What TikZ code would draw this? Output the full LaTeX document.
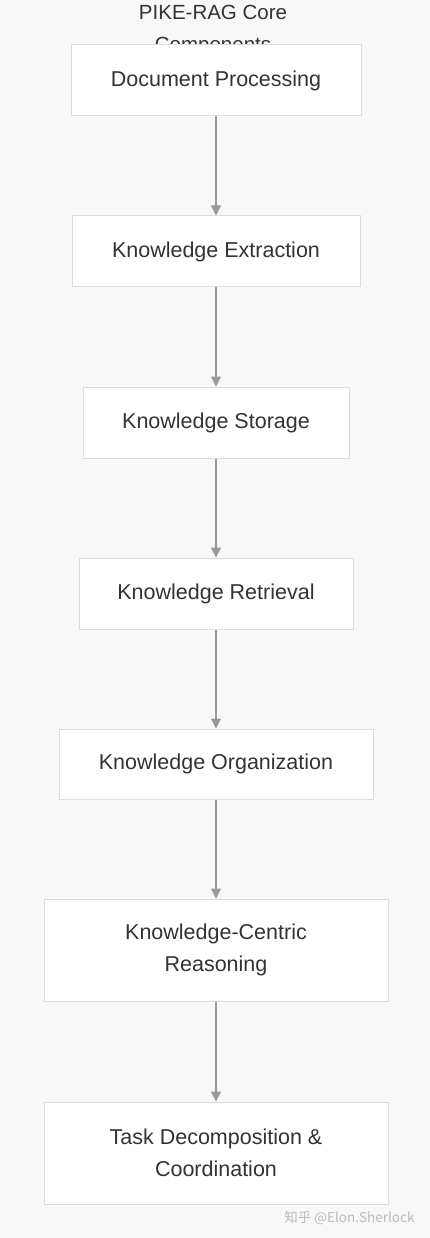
\documentclass[tikz,border=0pt]{standalone}
\usepackage{fontspec}
\setmainfont{Liberation Sans}
\newfontfamily\cjkfont{Noto Sans CJK SC}
\usetikzlibrary{arrows.meta}

\definecolor{bgcol}{HTML}{F8F8F8}
\definecolor{boxline}{HTML}{DDDDDD}
\definecolor{txtcol}{HTML}{333333}
\definecolor{arrowcol}{HTML}{999999}
\definecolor{markcol}{HTML}{BBBBBB}

\begin{document}
\begin{tikzpicture}[x=1pt, y=-1pt,
  comp/.style={draw=boxline, line width=1pt, fill=white, inner sep=0pt,
    text=txtcol, align=center, font=\fontsize{21.5}{32}\selectfont},
  flow/.style={draw=arrowcol, line width=1.4pt, -{Triangle[width=10pt,length=10pt]}}]

% === BACKGROUND ===
\fill[bgcol] (0,0) rectangle (430,1238);

% === TITLE (partly hidden by first box) ===
\node[text=txtcol, align=center, font=\fontsize{20.5}{32}\selectfont] (title) at (213,30) {PIKE-RAG Core\\Components};

% === COMPONENTS ===
\node[comp, minimum width=290pt, minimum height=71pt] (docproc) at (216,80.5) {Document Processing};
\node[comp, minimum width=288pt, minimum height=71pt] (extract) at (216,251.5) {Knowledge Extraction};
\node[comp, minimum width=266pt, minimum height=71pt] (storage) at (216,422.5) {Knowledge Storage};
\node[comp, minimum width=274pt, minimum height=71pt] (retrieve) at (216,593.5) {Knowledge Retrieval};
\node[comp, minimum width=314pt, minimum height=70pt] (organize) at (216,764) {Knowledge Organization};
\node[comp, minimum width=344pt, minimum height=102pt] (reason) at (216,950) {Knowledge-Centric\\Reasoning};
\node[comp, minimum width=344pt, minimum height=102pt] (taskdec) at (216,1153) {Task Decomposition \&\\Coordination};

% === CONNECTORS ===
\draw[flow] (docproc) -- (extract);
\draw[flow] (extract) -- (storage);
\draw[flow] (storage) -- (retrieve);
\draw[flow] (retrieve) -- (organize);
\draw[flow] (organize) -- (reason);
\draw[flow] (reason) -- (taskdec);

% === WATERMARK ===
\node[text=markcol, font=\cjkfont\fontsize{13.5}{15}\selectfont, anchor=east] (mark) at (418,1218) {知乎 @Elon.Sherlock};

\end{tikzpicture}
\end{document}
